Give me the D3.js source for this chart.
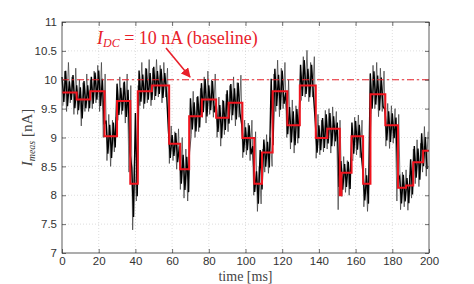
<!DOCTYPE html>
<head>
  <meta charset="utf-8">
  <script src="https://d3js.org/d3.v7.min.js"></script>
  <style>
    body { margin:0; background:#fff; }
  </style>
</head>
<body>
  <svg id="chart" width="474" height="284"></svg>
  <script>
    // step edges [ms] and the level of each step [nA]
    const stepTimes = [0, 8, 15.4, 23.2, 30, 37.2, 41.3, 49, 58.4, 64.4, 69.3, 76.2, 84, 90.8, 98.3,
      104.8, 109, 114.8, 122.8, 129.6, 138.3, 144.6, 151.4, 152.3, 157.8, 164.1, 168.1, 176.2,
      183.1, 187.5, 191.4, 196.8, 200];
    const stepLevels = [9.78, 9.66, 9.8, 9.02, 9.63, 8.2, 9.8, 9.9, 8.89, 8.45, 9.37, 9.66, 9.34, 9.6,
      8.99, 8.2, 8.74, 9.8, 9.21, 9.9, 8.99, 9.15, 8.0, 8.39, 9.02, 8.2, 9.75, 9.21, 8.13, 8.17,
      8.57, 8.77];
    // measured trace, max / min per 2 ms bin [nA]
    const traceHi = [10.15,10.3,10.05,10.2, 10.0,9.95,10.1,10.0, 10.15,10.25,10.3,10.1, 9.4,9.3,9.35,
      10.05,9.95,10.1,9.9, 8.6,9.9, 10.3,10.2,10.35,10.2, 10.35,10.25,10.3,10.2, 9.2,9.1,9.15,
      9.0,8.8,8.75, 9.8,9.7,9.85, 10.05,10.15,10.0,10.1, 9.7,9.65,9.75,9.9, 10.05,9.95,10.08,
      9.3,9.25,9.3,9.1, 8.5,8.8, 9.05,9.0,10.1, 10.34,10.2,10.3,10.0, 9.65,9.55,9.6,
      10.4,10.51,10.3,10.4, 9.4,9.3,9.47, 9.5,9.53,9.45,9.3, 8.67,8.6,8.65, 9.35,9.39,9.3,
      8.47,8.4, 10.25,10.3,10.2,10.15, 9.59,9.55,9.5,9.4, 8.4,8.44,8.35,8.8, 8.96,8.9, 9.19,9.1];
    const traceLo = [9.55,9.45,9.6,9.4, 9.4,9.2,9.45,9.45, 9.5,9.6,9.45,9.0, 8.6,8.5,8.75,
      9.3,9.4,9.25,8.4, 7.4,7.9, 9.55,9.5,9.6,9.55, 9.65,9.7,9.6,9.7, 8.55,8.6,8.45,
      8.1,7.95,7.9, 9.05,9.0,9.1, 9.35,9.25,9.4,9.35, 9.0,8.85,9.05,9.1, 9.3,9.2,9.35,
      8.65,8.7,8.6,8.0, 7.72,7.85, 8.4,8.38,8.5, 9.45,9.36,9.5,9.0, 8.8,8.73,8.9,
      9.65,9.7,9.62,9.7, 8.64,8.7,8.75, 8.8,8.73,8.85,7.75, 7.98,8.05,8.0, 8.6,8.7,8.65,
      7.8,7.72, 9.4,9.5,9.36,9.45, 8.85,8.81,8.9,7.9, 7.75,7.8,7.74,7.95, 8.2,8.15, 8.4,8.33];
    const xTicks = [0, 20, 40, 60, 80, 100, 120, 140, 160, 180, 200];
    const yTicks = [7, 7.5, 8, 8.5, 9, 9.5, 10, 10.5, 11];
    const baseline = 10;

    const margin = {top: 22, right: 45, bottom: 31, left: 62};
    const width = 474, height = 284;
    const svg = d3.select('#chart');

    const x = d3.scaleLinear().domain([0, 200]).range([margin.left, width - margin.right]);
    const y = d3.scaleLinear().domain([7, 11]).range([height - margin.bottom, margin.top]);

    // grid
    svg.append("g").selectAll("line").data(xTicks.slice(1, -1)).join("line")
      .attr("x1", d => x(d)).attr("x2", d => x(d))
      .attr("y1", y(7)).attr("y2", y(11))
      .attr("stroke", "#c8c8c8").attr("stroke-width", 0.6).attr("stroke-dasharray", "1,2");
    svg.append("g").selectAll("line").data(yTicks.slice(1, -1)).join("line")
      .attr("y1", d => y(d)).attr("y2", d => y(d))
      .attr("x1", x(0)).attr("x2", x(200))
      .attr("stroke", "#c8c8c8").attr("stroke-width", 0.6).attr("stroke-dasharray", "1,2");

    // level of the step at time t
    const levelAt = t => stepLevels[Math.max(0, d3.bisectRight(stepTimes, t) - 1)];

    // trace: zigzag through min/max of each bin, plus a denser core
    const outer = [], inner = [];
    traceHi.forEach((hi, i) => {
      const lo = traceLo[i];
      outer.push([2 * i + 0.5, lo], [2 * i + 1.5, hi]);
      const v = levelAt(2 * i + 1);
      inner.push([2 * i, v + (hi - v) * 0.72], [2 * i + 1, v + (lo - v) * 0.72]);
    });
    const line = d3.line().x(d => x(d[0])).y(d => y(d[1]));
    svg.append("path").attr("d", line(outer))
      .attr("fill", "none").attr("stroke", "#3a3a3a").attr("stroke-width", 0.7);
    svg.append("path").attr("d", line(inner))
      .attr("fill", "none").attr("stroke", "#000").attr("stroke-width", 1.4);

    // baseline
    svg.append("line")
      .attr("x1", x(0)).attr("x2", x(200)).attr("y1", y(baseline)).attr("y2", y(baseline))
      .attr("stroke", "#e8202a").attr("stroke-width", 1).attr("stroke-dasharray", "7,3,2,3");

    // step fit
    const steps = stepLevels.map((v, i) => [stepTimes[i], v]);
    steps.push([200, stepLevels[stepLevels.length - 1]]);
    svg.append("path")
      .attr("d", d3.line().curve(d3.curveStepAfter).x(d => x(d[0])).y(d => y(d[1]))(steps))
      .attr("fill", "none").attr("stroke", "#f0141e").attr("stroke-width", 2);

    // axes box and ticks
    svg.append("rect")
      .attr("x", x(0)).attr("y", y(11)).attr("width", x(200) - x(0)).attr("height", y(7) - y(11))
      .attr("fill", "none").attr("stroke", "#333").attr("stroke-width", 0.8);
    svg.append("g").attr("transform", `translate(0,${y(7)})`)
      .call(d3.axisBottom(x).tickValues(xTicks).tickSizeInner(-4).tickSizeOuter(0).tickPadding(4));
    svg.append("g").attr("transform", `translate(${x(0)},0)`)
      .call(d3.axisLeft(y).tickValues(yTicks).tickFormat(d3.format("")).tickSizeInner(-4).tickSizeOuter(0).tickPadding(5));
    svg.append("g").attr("transform", `translate(0,${y(11)})`)
      .call(d3.axisTop(x).tickValues(xTicks).tickSizeInner(-4).tickSizeOuter(0).tickFormat(""));
    svg.append("g").attr("transform", `translate(${x(200)},0)`)
      .call(d3.axisRight(y).tickValues(yTicks).tickSizeInner(-4).tickSizeOuter(0).tickFormat(""));
    svg.selectAll(".domain").remove();
    svg.selectAll(".tick line").attr("stroke", "#333").attr("stroke-width", 0.7);
    svg.selectAll(".tick text").attr("font-family", "Liberation Sans, Arial, sans-serif")
      .attr("font-size", 11.5).attr("fill", "#333");

    // axis labels
    svg.append("text")
      .attr("x", (x(0) + x(200)) / 2).attr("y", 281).attr("text-anchor", "middle")
      .attr("font-family", "Liberation Serif, serif").attr("font-size", 14).attr("fill", "#444")
      .text("time [ms]");
    const yl = svg.append("text")
      .attr("transform", `translate(32,${(y(7) + y(11)) / 2}) rotate(-90)`)
      .attr("text-anchor", "middle")
      .attr("font-family", "Liberation Serif, serif").attr("font-size", 15).attr("fill", "#444");
    yl.append("tspan").attr("font-style", "italic").text("I");
    yl.append("tspan").attr("font-style", "italic").attr("font-size", 10).attr("dy", 3).text("meas");
    yl.append("tspan").attr("dy", -3).text(" [nA]");

    // annotation
    const red = "#e8202a";
    const ann = svg.append("text").attr("x", 97).attr("y", 44)
      .attr("font-family", "Liberation Serif, serif").attr("font-size", 18).style("fill", red);
    ann.append("tspan").attr("font-style", "italic").text("I");
    ann.append("tspan").attr("font-style", "italic").attr("font-size", 12).attr("dy", 3).text("DC");
    ann.append("tspan").attr("dy", -3).text(" = 10 nA (baseline)");
    svg.append("defs").append("marker").attr("id", "head")
      .attr("viewBox", "0 0 10 10").attr("refX", 9).attr("refY", 5)
      .attr("markerWidth", 6).attr("markerHeight", 6).attr("orient", "auto")
      .append("path").attr("d", "M0,0L10,5L0,10z").attr("fill", red);
    svg.append("line").attr("x1", 166).attr("y1", 48).attr("x2", 190).attr("y2", 77)
      .attr("stroke", red).attr("stroke-width", 1.6).attr("marker-end", "url(#head)");
  </script>
</body>
